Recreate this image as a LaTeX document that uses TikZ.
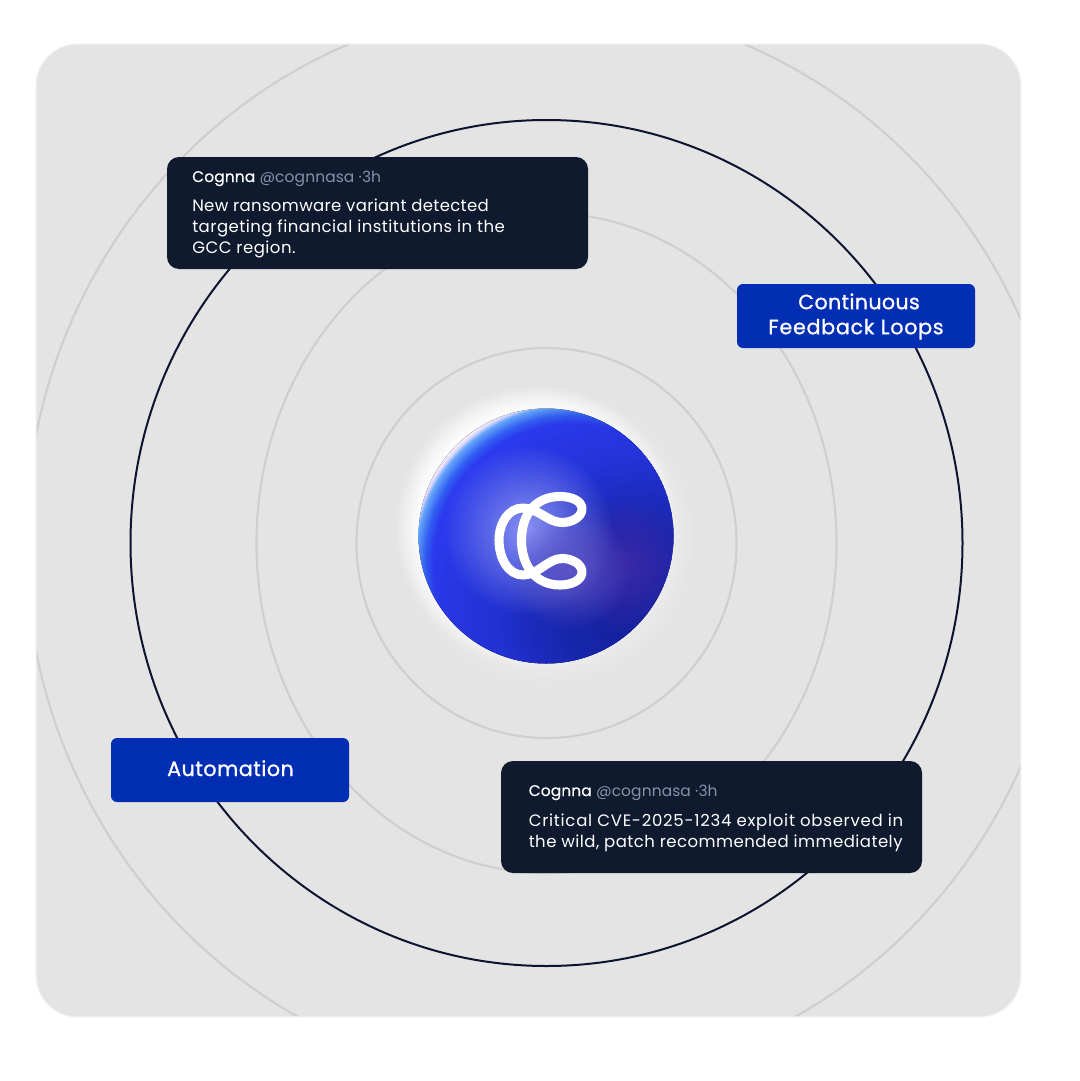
\documentclass[tikz,border=0pt]{standalone}
\usepackage{fontspec}
\setmainfont{Poppins}
\usetikzlibrary{fadings}
\definecolor{panel}{HTML}{E4E4E4}
\definecolor{ringgrey}{HTML}{CFCFCF}
\definecolor{navy}{HTML}{0F1A2E}
\definecolor{ringdark}{HTML}{0E1430}
\definecolor{tagblue}{HTML}{022EB4}
\definecolor{handle}{HTML}{8493A8}
\definecolor{sbody}{HTML}{2D3CF5}
\definecolor{sblueb}{HTML}{3361F5}
\definecolor{sbluec}{HTML}{66A6FA}
\definecolor{slav}{HTML}{E0D9FA}
\definecolor{slavb}{HTML}{F2EBFA}
\definecolor{sdark}{HTML}{14229E}
\definecolor{spurple}{HTML}{3B29A8}
\definecolor{sglow}{HTML}{8A92F2}
\pgfdeclareradialshading{softhaloshade}{\pgfpoint{0bp}{0bp}}{
 color(0bp)=(transparent!0); color(21.25bp)=(transparent!0); color(25bp)=(transparent!100); color(50bp)=(transparent!100)}
\pgfdeclarefading{softhalo}{\pgfuseshading{softhaloshade}}
\pgfdeclareradialshading{whitehaloshade}{\pgfpoint{0bp}{0bp}}{
 color(0bp)=(transparent!0); color(20bp)=(transparent!0); color(22bp)=(transparent!40); color(25bp)=(transparent!100); color(50bp)=(transparent!100)}
\pgfdeclarefading{whitehalo}{\pgfuseshading{whitehaloshade}}
\pgfdeclareradialshading{rimlight}{\pgfpoint{12bp}{-12bp}}{
 color(0bp)=(sbody);
 color(27.5bp)=(sbody);
 color(28.8bp)=(sblueb);
 color(30.3bp)=(sbluec);
 color(30.9bp)=(slav);
 color(31.3bp)=(slavb);
 color(50bp)=(slavb)}
\tikzfading[name=softspot, inner color=transparent!0, outer color=transparent!100]
\tikzset{
 x=0.75pt, y=-0.75pt,
 lightring/.style={draw=ringgrey, line width=1.6pt},
 darkring/.style={draw=ringdark, line width=1.5pt},
 postbox/.style={fill=navy, draw=none, rounded corners=9pt, minimum width=315.75pt, minimum height=84pt, inner sep=0pt},
 tagbox/.style={fill=tagblue, draw=none, rounded corners=4.5pt, minimum width=178.5pt, minimum height=48pt, inner sep=0pt},
 tagtext/.style={text=white, anchor=base, inner sep=0pt, font=\fontsize{15.5}{18.7}\selectfont\addfontfeatures{FakeBold=1,LetterSpace=#1}},
 postbody/.style={text=white, anchor=base west, inner sep=0pt, font=\fontsize{12.4}{15.6}\selectfont\addfontfeatures{LetterSpace=#1}},
 posthead/.style={text=white, anchor=base west, inner sep=0pt, font=\fontsize{11.6}{14}\selectfont\addfontfeatures{LetterSpace=0.6}},
 logoline/.style={draw=white, line width=6.8pt, line join=round},
}
\begin{document}
\begin{tikzpicture}
\useasboundingbox (0,0) rectangle (1080,1081);
\fill[white] (0,0) rectangle (1080,1081);
\begin{scope}
\path[clip, rounded corners=31pt] (36,44) rectangle (1021,1017);
\fill[panel] (36,44) rectangle (1021,1017);
\draw[lightring] (546.5,543) ellipse [x radius=521, y radius=539];
\end{scope}
\draw[rounded corners=31pt, draw=white!60!panel, line width=0.8pt] (36,44) rectangle (1021,1017);
\draw[lightring] (546.5,543) ellipse [x radius=290, y radius=330];
\draw[lightring] (546.5,543) ellipse [x radius=190, y radius=195];
\draw[darkring] (546.5,543) ellipse [x radius=416, y radius=423];
% sphere
\fill[white, fill opacity=0.25, path fading=softhalo] (546,536) circle [radius=150];
\fill[white, path fading=whitehalo] (536,526) circle [radius=141];
\begin{scope}
\clip (546,536) circle [radius=127.5];
\fill[shading=rimlight] (546,536) circle [radius=127.5];
\fill[sdark, path fading=softspot] (640,620) circle [radius=240];
\fill[sdark, path fading=softspot] (650,610) circle [radius=150];
\fill[spurple, path fading=softspot] (625,565) circle [radius=70];
\fill[sglow, path fading=softspot] (528,530) circle [radius=85];
\fill[spurple!60!sglow, path fading=softspot] (570,570) circle [radius=60];
\end{scope}
\draw[logoline] (560,496.5) .. controls (572,496.5) and (582,501) .. (582,509)
 .. controls (582,517) and (572,522.5) .. (562,522.5)
 .. controls (548,522.5) and (538,508) .. (523,508)
 .. controls (508,508) and (499,524) .. (499,540)
 .. controls (499,558) and (508,575) .. (523,575)
 .. controls (538,575) and (548,558.5) .. (562,558.5)
 .. controls (572,558.5) and (582,564) .. (582,572)
 .. controls (582,580) and (572,585) .. (560,585)
 .. controls (535,585) and (521.5,565) .. (521.5,540)
 .. controls (521.5,515) and (535,496.5) .. (560,496.5) -- cycle;
% boxes
\node[postbox] (postA) at (377.5,213) {};
\node[postbox] (postB) at (711.5,817) {};
\node[tagbox] (tagA) at (856,316) {};
\node[tagbox] (tagB) at (230,770) {};
\node[tagtext=1.5] (tagAone) at (859,309.2) {Continuous};
\node[tagtext=3.4] (tagAtwo) at (856,334.2) {Feedback Loops};
\node[tagtext=2.4] (tagBone) at (230.5,776) {Automation};
\node[posthead] (postAhead) at (192,182) {{\addfontfeatures{FakeBold=0.4}Cognna} {\color{handle}@cognnasa ·3h}};
\node[postbody=2.0] (postAone) at (192,211) {New ransomware variant detected};
\node[postbody=2.8] (postAtwo) at (192,232.2) {targeting financial institutions in the};
\node[postbody=2.8] (postAthree) at (192,253.2) {GCC region.};
\node[posthead] (postBhead) at (528.5,796) {{\addfontfeatures{FakeBold=0.4}Cognna} {\color{handle}@cognnasa ·3h}};
\node[postbody=4.4] (postBone) at (528.5,826) {Critical CVE-2025-1234 exploit observed in};
\node[postbody=2.7] (postBtwo) at (528.5,847) {the wild, patch recommended immediately};
\end{tikzpicture}
\end{document}
